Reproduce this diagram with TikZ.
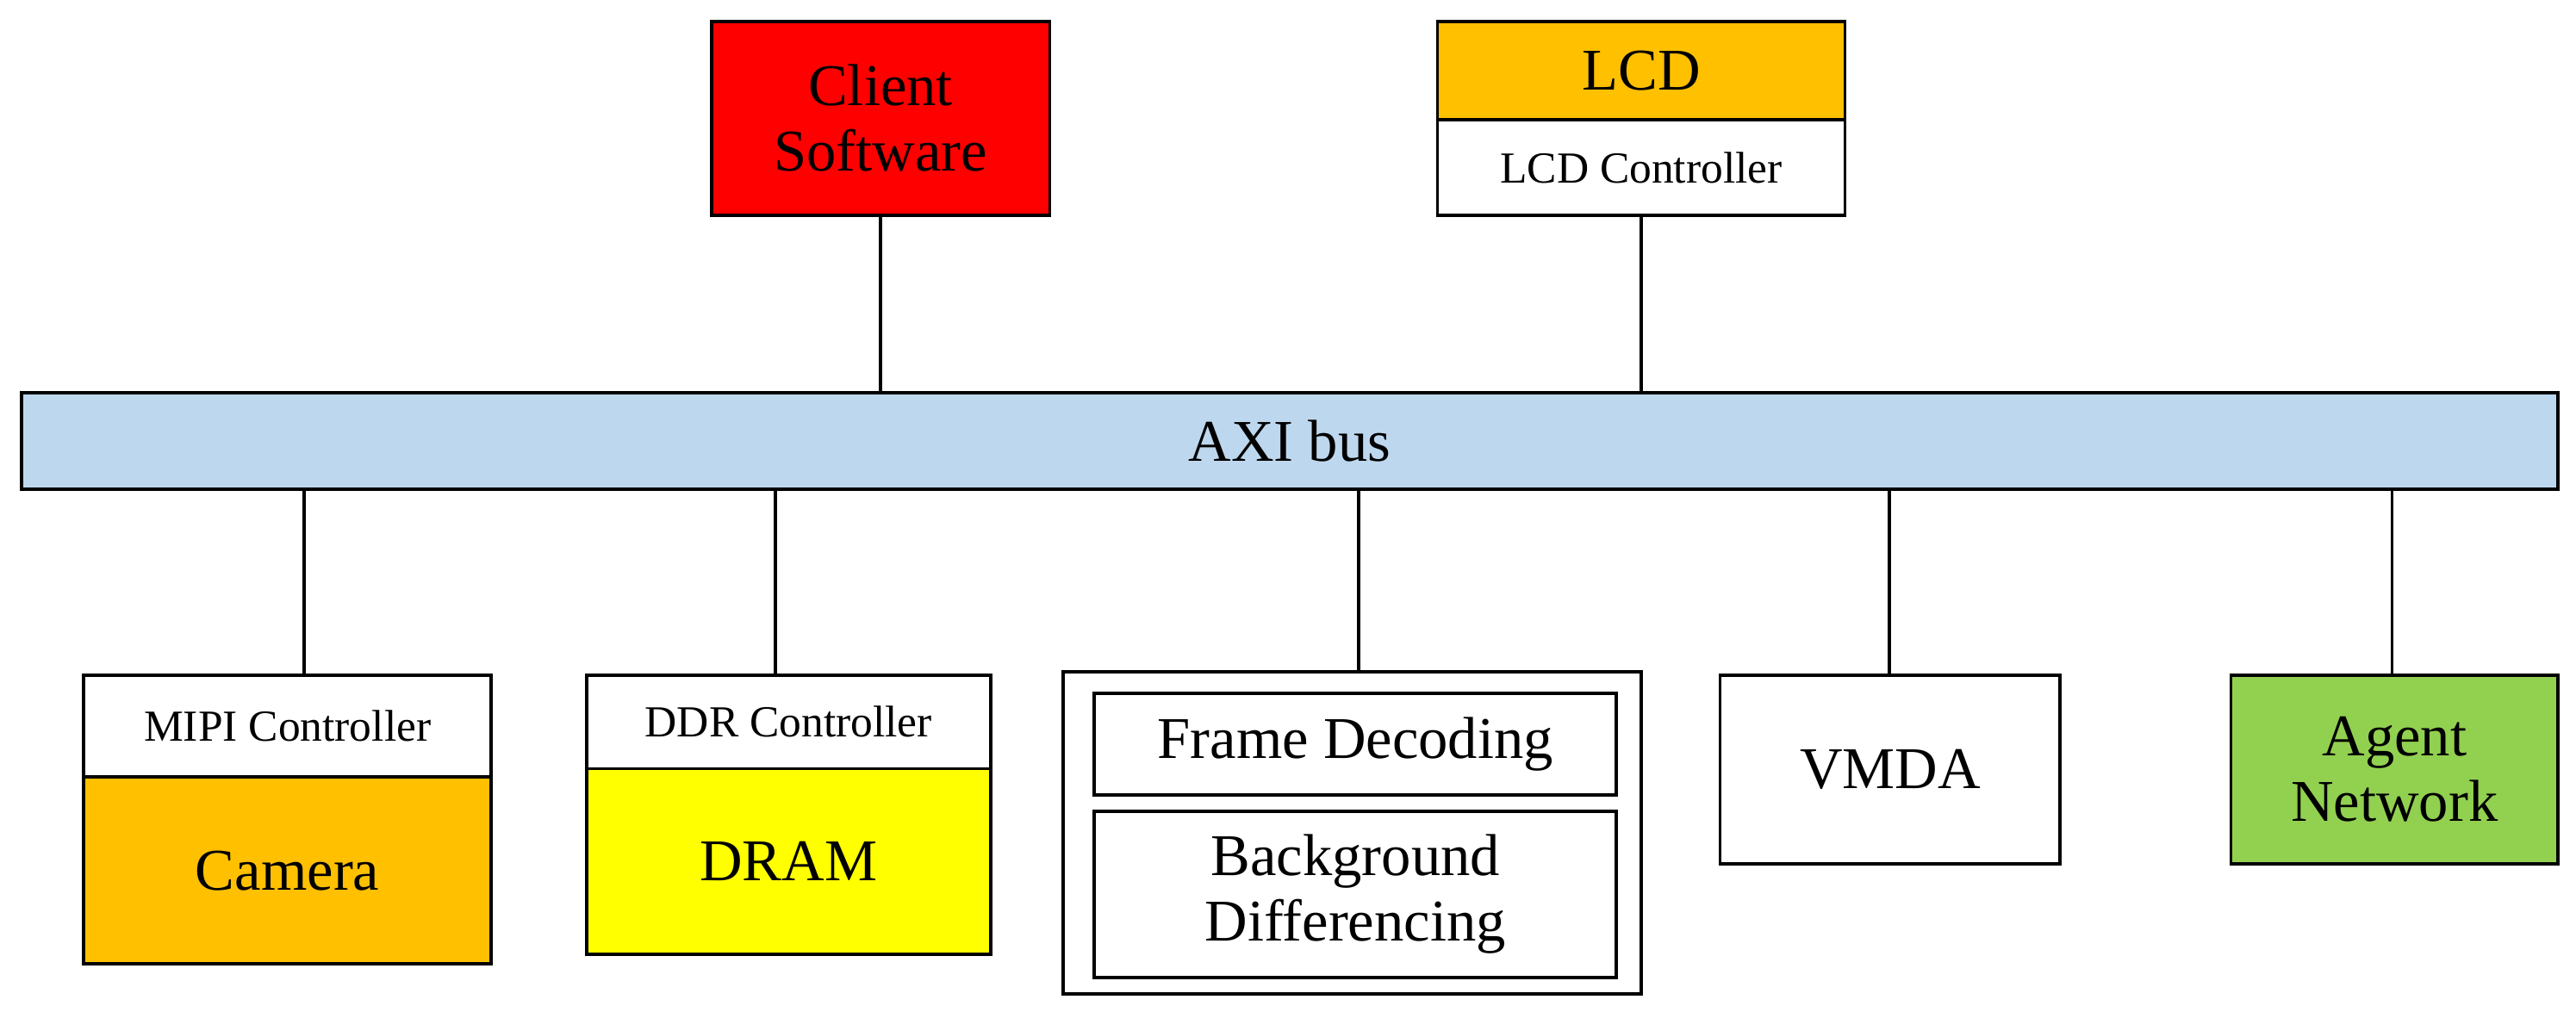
\documentclass[tikz,border=0pt]{standalone}
\usepackage{fontspec}
\setmainfont{Liberation Serif}
\begin{document}
\begin{tikzpicture}[x=0.5pt,y=-0.5pt,
  box/.style={draw,line width=1pt,anchor=north west,inner sep=0pt,align=center},
  big/.style={font=\fontsize{18}{20}\selectfont},
  small/.style={font=\fontsize{13.5}{15}\selectfont},
  conn/.style={line width=1pt}]
\useasboundingbox (0,0) rectangle (1568,616);
\definecolor{cred}{HTML}{FF0000}
\definecolor{corange}{HTML}{FFC000}
\definecolor{cyellow}{HTML}{FFFF00}
\definecolor{cblue}{HTML}{BDD7EE}
\definecolor{cgreen}{HTML}{92D050}
\node[box,big,fill=cred,minimum width=103pt,minimum height=59pt] (cs) at (432,12) {Client\\Software};
\node[box,big,fill=corange,minimum width=124pt,minimum height=30pt] (lcd) at (874,12) {LCD};
\node[box,small,minimum width=124pt,minimum height=29pt] (lcdc) at (874,72) {LCD Controller};
\node[box,big,fill=cblue,minimum width=772pt,minimum height=29.5pt] (axi) at (12,238) {AXI bus};
\node[box,small,minimum width=124pt,minimum height=31pt] (mipi) at (50,410) {MIPI Controller};
\node[box,big,fill=corange,minimum width=124pt,minimum height=57pt] (cam) at (50,472) {Camera};
\node[box,small,minimum width=123pt,minimum height=28.5pt] (ddr) at (356,410) {DDR Controller};
\node[box,big,fill=cyellow,minimum width=123pt,minimum height=56.5pt] (dram) at (356,467) {DRAM};
\node[box,minimum width=176pt,minimum height=98pt] (grp) at (646,408) {};
\node[box,big,minimum width=159pt,minimum height=31pt] (fd) at (665,421) {Frame Decoding};
\node[box,big,minimum width=159pt,minimum height=50.5pt] (bd) at (665,493) {Background\\Differencing};
\node[box,big,minimum width=103.5pt,minimum height=57.5pt] (vmda) at (1046,410) {VMDA};
\node[box,big,fill=cgreen,minimum width=99.5pt,minimum height=57.5pt] (agent) at (1357,410) {Agent\\Network};
\draw[conn] (cs.south) -- (cs.south |- axi.north);
\draw[conn] (lcdc.south) -- (lcdc.south |- axi.north);
\coordinate (t1) at (185,297);
\coordinate (t2) at (472,297);
\coordinate (t3) at (827,297);
\coordinate (t4) at (1150,297);
\coordinate (t5) at (1456,297);
\draw[conn] (t1) -- (t1 |- mipi.north);
\draw[conn] (t2) -- (t2 |- ddr.north);
\draw[conn] (t3) -- (t3 |- grp.north);
\draw[conn] (t4) -- (t4 |- vmda.north);
\draw[conn] (t5) -- (t5 |- agent.north);
\end{tikzpicture}
\end{document}
